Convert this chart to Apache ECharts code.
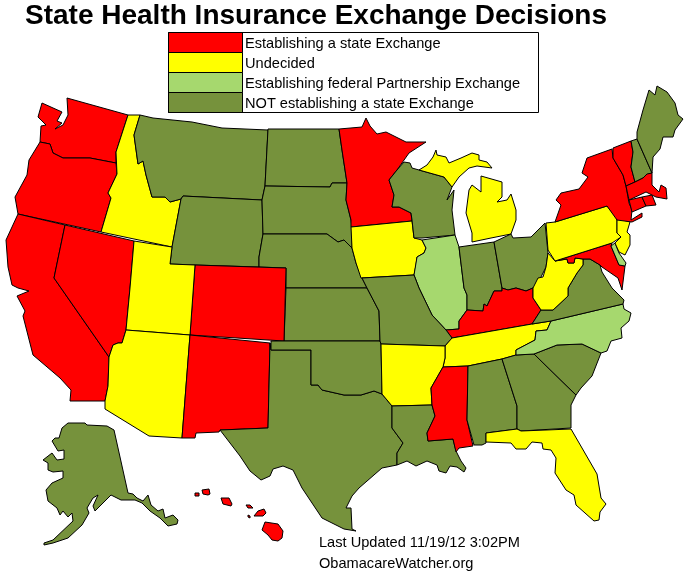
<!DOCTYPE html>
<html>
<head>
<meta charset="utf-8">
<title>State Health Insurance Exchange Decisions</title>
<script src="https://cdn.jsdelivr.net/npm/echarts@6/dist/echarts.min.js"></script>
<style>
  html, body { margin: 0; padding: 0; background: #fff; }
  #chart { width: 688px; height: 576px; }
</style>
</head>
<body>
<div id="chart"></div>
<script>
const titleText = 'State Health Insurance Exchange Decisions';
const footerLines = ['Last Updated 11/19/12 3:02PM', 'ObamacareWatcher.org'];

const legendLabels = ['Establishing a state Exchange', 'Undecided', 'Establishing federal Partnership Exchange', 'NOT establishing a state Exchange'];
const decisionColors = ['#ff0000', '#ffff00', '#a6d86e', '#76923c'];

const establishing = ['WA', 'OR', 'CA', 'NV', 'CO', 'NM', 'MN', 'NY', 'VT', 'MA', 'CT', 'RI', 'MD', 'KY', 'MS', 'HI'];
const undecided = ['ID', 'UT', 'AZ', 'IA', 'MI', 'PA', 'NJ', 'WV', 'AR', 'TN', 'FL'];
const partnership = ['IL', 'DE', 'NC'];
const notEstablishing = ['MT', 'WY', 'ND', 'SD', 'NE', 'KS', 'OK', 'TX', 'MO', 'WI', 'IN', 'OH', 'LA', 'AL', 'GA', 'SC', 'VA', 'NH', 'ME', 'AK'];

// state outlines, x then y downwards
const stateOutlines = {
  WA: [[[67,98],[128,115],[116,152],[116,163],[90,158],[63,158],[53,153],[50,144],[40,142],[41,126],[46,125],[38,117],[42,103],[62,112],[57,121],[62,123],[55,129],[63,125],[68,115]]],
  OR: [[[40,142],[50,144],[53,153],[63,158],[90,158],[116,163],[117,174],[108,193],[111,198],[101,232],[18,214],[15,197],[27,175],[29,160]]],
  CA: [[[18,214],[65,225],[54,278],[109,357],[108,386],[105,401],[70,401],[71,390],[60,378],[33,355],[23,316],[25,311],[17,296],[29,291],[18,288],[12,285],[8,267],[6,240]]],
  NV: [[[65,225],[134,241],[130,288],[126,330],[122,343],[118,343],[113,345],[109,357],[54,278]]],
  ID: [[[128,115],[140,115],[134,135],[138,164],[143,161],[146,175],[152,197],[165,197],[170,202],[181,199],[172,247],[101,232],[111,198],[108,193],[117,174],[116,152]]],
  MT: [[[140,115],[153,118],[192,122],[222,128],[268,130],[265,186],[262,200],[183,196],[181,199],[170,202],[165,197],[152,197],[146,175],[143,161],[138,164],[134,135]]],
  WY: [[[183,196],[262,200],[263,234],[259,257],[259,267],[195,265],[170,264],[172,247],[181,199]]],
  ND: [[[268,129],[339,129],[342,150],[347,183],[332,183],[330,187],[265,186]]],
  SD: [[[265,186],[330,187],[332,183],[347,183],[346,200],[351,220],[352,228],[352,248],[344,240],[338,242],[327,234],[263,234],[262,200]]],
  NE: [[[263,234],[327,234],[338,242],[344,240],[352,248],[356,263],[362,278],[367,288],[286,288],[286,268],[259,267],[259,257]]],
  KS: [[[286,288],[367,288],[379,311],[380,341],[284,341]]],
  CO: [[[195,265],[286,268],[284,341],[190,335]]],
  UT: [[[134,241],[172,247],[170,264],[195,265],[190,335],[126,330],[130,288]]],
  AZ: [[[126,330],[190,335],[182,438],[149,436],[105,409],[105,401],[108,386],[109,357],[113,345],[118,343],[122,343]]],
  NM: [[[190,335],[270,343],[268,428],[220,430],[219,432],[196,433],[195,438],[182,438]]],
  TX: [[[271,350],[311,350],[311,385],[318,385],[322,390],[344,395],[361,395],[374,391],[382,394],[392,406],[392,428],[403,443],[397,453],[397,465],[382,468],[359,488],[352,496],[346,508],[351,508],[352,529],[356,531],[344,529],[322,518],[302,488],[293,470],[283,466],[273,469],[270,476],[261,480],[250,471],[240,456],[220,430],[268,428],[270,343]]],
  OK: [[[271,341],[380,341],[381,344],[382,394],[374,391],[361,395],[344,395],[322,390],[318,385],[311,385],[311,350],[271,350]]],
  MN: [[[339,129],[362,127],[366,118],[370,126],[377,134],[386,132],[396,137],[406,142],[426,142],[409,153],[397,170],[389,180],[394,195],[392,207],[399,207],[411,213],[412,221],[351,227],[351,220],[346,200],[347,183],[342,150]]],
  IA: [[[351,227],[412,221],[414,238],[422,240],[426,248],[424,253],[417,257],[416,265],[414,275],[361,278],[356,263],[352,248]]],
  WI: [[[404,162],[410,163],[412,168],[419,170],[444,177],[452,187],[447,200],[454,190],[452,210],[455,235],[422,238],[414,238],[412,220],[411,213],[399,207],[392,207],[394,195],[389,180],[397,170]]],
  MI: [[[419,170],[427,165],[433,157],[436,150],[437,155],[446,157],[449,163],[461,158],[472,153],[479,155],[479,160],[487,162],[492,168],[477,166],[469,168],[459,177],[452,187],[444,177]],
       [[481,176],[502,182],[502,197],[497,202],[507,200],[511,194],[516,210],[516,220],[511,234],[491,238],[472,242],[472,233],[466,213],[469,190],[472,185],[481,192]]],
  IL: [[[422,240],[455,235],[459,247],[464,288],[467,295],[467,310],[459,321],[459,329],[446,330],[432,315],[419,288],[414,275],[417,257],[424,253],[426,248]]],
  IN: [[[459,247],[494,242],[502,288],[502,291],[494,291],[487,306],[484,304],[483,311],[467,310],[467,295],[464,288]]],
  OH: [[[494,242],[511,234],[513,238],[531,237],[545,223],[548,253],[546,267],[541,277],[535,287],[526,291],[516,288],[508,290],[502,288]]],
  KY: [[[502,288],[508,290],[516,288],[526,291],[533,288],[533,298],[541,310],[532,324],[452,338],[446,330],[459,329],[459,321],[467,310],[483,311],[484,304],[487,306],[494,291],[502,291]]],
  MO: [[[362,278],[414,275],[419,288],[432,315],[446,330],[452,338],[445,346],[381,344],[380,341],[379,311],[367,288]]],
  TN: [[[445,346],[452,338],[532,324],[551,321],[547,330],[536,331],[535,340],[516,350],[516,355],[502,359],[468,366],[443,367],[445,358]]],
  AR: [[[381,344],[445,346],[445,358],[443,367],[431,388],[432,405],[392,406],[382,394]]],
  LA: [[[392,406],[432,405],[435,416],[427,433],[428,441],[453,439],[456,451],[461,461],[466,468],[464,472],[457,467],[450,466],[446,473],[439,471],[437,465],[427,461],[416,466],[407,461],[397,465],[397,453],[403,443],[392,428]]],
  MS: [[[443,367],[468,366],[467,420],[473,446],[459,448],[456,452],[453,439],[428,441],[427,433],[435,416],[432,405],[431,388]]],
  AL: [[[468,366],[502,359],[517,406],[517,429],[486,433],[486,443],[482,445],[474,445],[467,420]]],
  GA: [[[502,359],[516,355],[534,354],[576,395],[571,405],[571,428],[521,431],[517,429],[517,406]]],
  SC: [[[534,354],[557,345],[582,344],[601,353],[592,376],[581,388],[576,395]]],
  NC: [[[551,321],[623,304],[624,309],[631,313],[629,321],[621,328],[622,338],[611,341],[607,351],[601,353],[582,344],[557,345],[534,354],[516,355],[516,350],[535,340],[536,331],[547,330]]],
  VA: [[[532,324],[541,310],[553,310],[568,296],[568,288],[577,273],[583,265],[583,259],[590,259],[600,265],[602,272],[612,288],[624,300],[623,304],[551,321]]],
  WV: [[[548,253],[555,261],[567,259],[568,263],[574,263],[575,258],[583,259],[583,265],[577,273],[568,288],[568,296],[553,310],[541,310],[533,298],[533,288],[538,278],[543,277],[546,267]]],
  MD: [[[555,261],[612,243],[611,246],[619,265],[625,266],[622,290],[618,278],[602,267],[600,265],[590,259],[583,259],[575,258],[574,263],[568,263],[567,259]]],
  DE: [[[611,246],[615,243],[619,253],[626,263],[625,266],[619,265]]],
  PA: [[[546,223],[555,222],[607,206],[617,218],[617,233],[621,237],[612,243],[555,261],[548,250]]],
  NJ: [[[617,218],[630,222],[627,232],[630,235],[630,245],[625,255],[619,252],[615,243],[621,237],[617,233]]],
  NY: [[[555,222],[561,205],[556,200],[561,193],[579,189],[588,177],[582,173],[587,158],[612,149],[613,158],[623,175],[626,186],[629,203],[632,210],[631,220],[642,213],[642,217],[632,222],[617,220],[607,206]]],
  VT: [[[613,148],[631,141],[633,152],[631,167],[635,182],[626,186],[623,175],[613,158]]],
  NH: [[[631,141],[637,139],[652,173],[646,175],[643,178],[635,182],[631,167],[633,152]]],
  ME: [[[637,139],[637,132],[643,110],[649,90],[655,95],[657,86],[667,92],[675,103],[678,115],[683,119],[675,130],[673,137],[663,137],[660,149],[653,157],[652,173]]],
  MA: [[[626,186],[635,182],[643,178],[647,174],[652,173],[652,185],[659,192],[661,185],[666,188],[667,199],[656,197],[646,192],[629,200]]],
  CT: [[[629,200],[642,197],[646,206],[632,212]]],
  RI: [[[642,197],[652,195],[656,205],[646,206]]],
  FL: [[[486,433],[517,429],[521,431],[571,429],[582,448],[597,474],[601,498],[606,504],[600,512],[599,520],[594,521],[576,505],[574,495],[566,490],[555,473],[556,458],[551,450],[543,449],[542,443],[532,442],[526,449],[516,449],[511,443],[486,442]]],
  AK: [[[68,423],[85,423],[87,425],[107,426],[114,430],[128,493],[133,494],[137,498],[143,501],[148,495],[151,505],[158,511],[163,509],[165,518],[173,515],[178,520],[177,524],[168,526],[160,518],[150,511],[142,503],[135,500],[121,500],[111,495],[102,504],[95,511],[93,506],[98,495],[93,498],[87,508],[89,513],[82,525],[68,538],[53,543],[44,545],[44,543],[53,540],[73,521],[72,513],[68,517],[63,511],[60,515],[57,508],[48,501],[46,490],[52,483],[63,478],[63,471],[53,472],[48,470],[48,463],[43,460],[52,453],[57,460],[64,459],[64,450],[58,451],[52,441],[55,438],[59,438],[62,428]]],
  HI: [[[195,493],[199,493],[199,496],[195,496]],
       [[202,490],[209,489],[210,494],[208,495],[203,494]],
       [[221,498],[229,498],[232,504],[231,506],[223,504]],
       [[246,505],[250,505],[253,508],[248,508]],
       [[254,516],[258,511],[264,509],[266,513],[263,516]],
       [[248,515],[250,516],[250,518],[248,517]],
       [[262,530],[265,522],[278,524],[283,531],[282,538],[278,541],[272,540],[268,535]]]
};

const decisionGroups = [establishing, undecided, partnership, notEstablishing];

// y is flipped because the geo coordinate system treats it as latitude
const statesGeoJson = {
  type: 'FeatureCollection',
  features: Object.keys(stateOutlines).map(function (name) {
    return {
      type: 'Feature',
      properties: { name: name },
      geometry: {
        type: 'MultiPolygon',
        coordinates: stateOutlines[name].map(function (ring) {
          const flipped = ring.map(function (p) { return [p[0], -p[1]]; });
          flipped.push(flipped[0]);
          return [flipped];
        })
      }
    };
  })
};

echarts.registerMap('usStates', statesGeoJson);

const stateData = [];
decisionGroups.forEach(function (group, i) {
  group.forEach(function (name) {
    stateData.push({ name: name, value: i, itemStyle: { areaColor: decisionColors[i] } });
  });
});

const legendGraphics = [];
legendLabels.forEach(function (label, i) {
  legendGraphics.push({
    type: 'rect',
    shape: { x: 168.5, y: 32.5 + i * 20, width: 74, height: 20 },
    style: { fill: decisionColors[i], stroke: '#000', lineWidth: 1 }
  });
  legendGraphics.push({
    type: 'text',
    style: { x: 245, y: 44 + i * 20, text: label, fill: '#000', font: '14.6px "Liberation Sans", Arial, sans-serif', verticalAlign: 'middle' }
  });
});
legendGraphics.push({
  type: 'rect',
  shape: { x: 168.5, y: 32.5, width: 370, height: 80 },
  style: { fill: 'none', stroke: '#000', lineWidth: 1 }
});

const footerGraphics = footerLines.map(function (line, i) {
  return {
    type: 'text',
    style: { x: 319, y: 543 + i * 21, text: line, fill: '#000', font: '14.6px "Liberation Sans", Arial, sans-serif', verticalAlign: 'middle' }
  };
});

const chart = echarts.init(document.getElementById('chart'));
chart.setOption({
  animation: false,
  backgroundColor: '#fff',
  title: {
    text: titleText,
    left: 25,
    top: 2,
    padding: 0,
    textStyle: { color: '#000', fontFamily: '"Liberation Sans", Arial, sans-serif', fontWeight: 'bold', fontSize: 28 }
  },
  series: [{
    type: 'map',
    map: 'usStates',
    silent: true,
    roam: false,
    aspectScale: 1,
    boundingCoords: [[0, 0], [688, -576]],
    left: 0,
    top: 0,
    width: 688,
    height: 576,
    label: { show: false },
    itemStyle: { borderColor: '#000', borderWidth: 1 },
    data: stateData
  }],
  graphic: legendGraphics.concat(footerGraphics)
});
</script>
</body>
</html>
